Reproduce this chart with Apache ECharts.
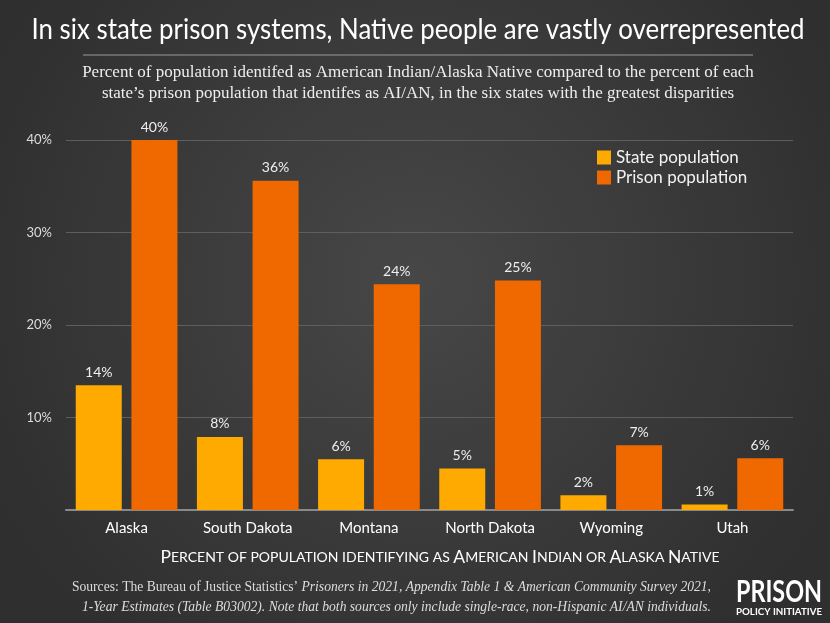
<!DOCTYPE html>
<html>
<head>
<meta charset="utf-8">
<style>
html,body{margin:0;padding:0;background:#3b3b3b;}
#chart{width:830px;height:623px;}
</style>
<script src="https://cdn.jsdelivr.net/npm/echarts@6/dist/echarts.min.js"></script>
</head>
<body>
<div id="chart"></div>
<script>
var states = ['Alaska', 'South Dakota', 'Montana', 'North Dakota', 'Wyoming', 'Utah'];
var statePopulation = [13.5, 7.9, 5.5, 4.5, 1.6, 0.6];
var prisonPopulation = [40.0, 35.6, 24.4, 24.8, 7.0, 5.6];
var yTicks = [0, 10, 20, 30, 40];

var TITLE = 'In six state prison systems, Native people are vastly overrepresented';
var SUBTITLE = 'Percent of population identifed as American Indian/Alaska Native compared to the percent of each\nstate\u2019s prison population that identifes as AI/AN, in the six states with the greatest disparities';

var YELLOW = '#FFAA00';
var ORANGE = '#F06800';
var SANS = 'Lato, "Noto Sans", sans-serif';
var SERIF = '"Liberation Serif", "DejaVu Serif", serif';

// horizontal squeeze so wide fonts fit the reference's condensed typeface widths
var ctx = document.createElement('canvas').getContext('2d');
function fitScale(text, font, target) {
  ctx.font = font;
  return target / ctx.measureText(text).width;
}
var titleScale = fitScale(TITLE, '28px Lato', 773);
var prisonScale = fitScale('PRISON', 'bold 31px Lato', 86);
var ppiScale = fitScale('POLICY INITIATIVE', 'bold 10px Lato', 86);

var chart = echarts.init(document.getElementById('chart'));
var option = {
  backgroundColor: {
    type: 'radial', x: 0.5, y: 0.45, r: 0.75,
    colorStops: [{offset: 0, color: '#474747'}, {offset: 1, color: '#2f2f2f'}]
  },
  animation: false,
  title: [
    {
      text: '{b|P}{s|ERCENT OF POPULATION IDENTIFYING AS }{b|A}{s|MERICAN }{b|I}{s|NDIAN OR }{b|A}{s|LASKA }{b|N}{s|ATIVE}',
      left: 435, top: 543, textAlign: 'center',
      textStyle: {
        rich: {
          b: {color: '#ffffff', fontFamily: SANS, fontSize: 17.5, fontWeight: 'normal'},
          s: {color: '#ffffff', fontFamily: SANS, fontSize: 14, fontWeight: 'normal'}
        }
      }
    }
  ],
  graphic: [
    {type: 'text', x: 418, y: 30, scaleX: titleScale, originX: 0, originY: 0,
      style: {text: TITLE, fill: '#ffffff', font: '28px Lato', textAlign: 'center', verticalAlign: 'middle'}},
    {type: 'line', shape: {x1: 83, y1: 55, x2: 753, y2: 55}, style: {stroke: '#9a9a9a', lineWidth: 1}},
    {type: 'text', x: 418, y: 62,
      style: {text: SUBTITLE, fill: '#eeeeee', font: '17px "Liberation Serif", serif', lineHeight: 21, align: 'center'}},
    {type: 'text', x: 711, y: 577,
      style: {
        text: '{n|Sources: The Bureau of Justice Statistics\u2019 }{i|Prisoners in 2021, Appendix Table 1 & American Community Survey 2021,}\n{i|1-Year Estimates (Table B03002). Note that both sources only include single-race, non-Hispanic AI/AN individuals.}',
        align: 'right',
        rich: {
          n: {fill: '#dddddd', fontFamily: SERIF, fontSize: 13.6, fontWeight: 'normal', lineHeight: 20},
          i: {fill: '#dddddd', fontFamily: SERIF, fontSize: 13.6, fontWeight: 'normal', fontStyle: 'italic', lineHeight: 20}
        }
      }},
    {type: 'text', x: 736, y: 592, scaleX: prisonScale, originX: 0, originY: 0,
      style: {text: 'PRISON', fill: '#ffffff', font: 'bold 31px Lato', verticalAlign: 'middle'}},
    {type: 'text', x: 736, y: 612, scaleX: ppiScale, originX: 0, originY: 0,
      style: {text: 'POLICY INITIATIVE', fill: '#ffffff', font: 'bold 10px Lato', verticalAlign: 'middle'}}
  ],
  legend: {
    orient: 'vertical', left: 597, top: 149, padding: 0,
    itemWidth: 14, itemHeight: 14, itemGap: 3, icon: 'rect',
    textStyle: {color: '#f2f2f2', fontFamily: SANS, fontSize: 17},
    data: ['State population', 'Prison population']
  },
  grid: {left: 66, right: 37, top: 140, bottom: 113},
  xAxis: {
    type: 'category', data: states,
    axisLine: {lineStyle: {color: '#8a8a8a', width: 2}},
    axisTick: {show: false},
    axisLabel: {color: '#ffffff', fontFamily: SANS, fontSize: 15, margin: 11}
  },
  yAxis: {
    type: 'value', min: 0, max: 40, interval: 10,
    axisLine: {show: false}, axisTick: {show: false},
    splitLine: {lineStyle: {color: '#5e5e5e', width: 1}},
    axisLabel: {
      color: '#dddddd', fontFamily: SANS, fontSize: 13, margin: 14,
      formatter: function (v) { return yTicks.indexOf(v) > 0 ? v + '%' : ''; }
    }
  },
  series: [
    {
      name: 'State population', type: 'bar', data: statePopulation,
      barWidth: 46, barGap: '21%',
      itemStyle: {color: YELLOW},
      label: {show: true, position: 'top', distance: 6, color: '#eeeeee', fontFamily: SANS, fontSize: 14,
        formatter: function (p) { return Math.round(p.value) + '%'; }}
    },
    {
      name: 'Prison population', type: 'bar', data: prisonPopulation,
      barWidth: 46,
      itemStyle: {color: ORANGE},
      label: {show: true, position: 'top', distance: 6, color: '#eeeeee', fontFamily: SANS, fontSize: 14,
        formatter: function (p) { return Math.round(p.value) + '%'; }}
    }
  ]
};
chart.setOption(option);
</script>
</body>
</html>
